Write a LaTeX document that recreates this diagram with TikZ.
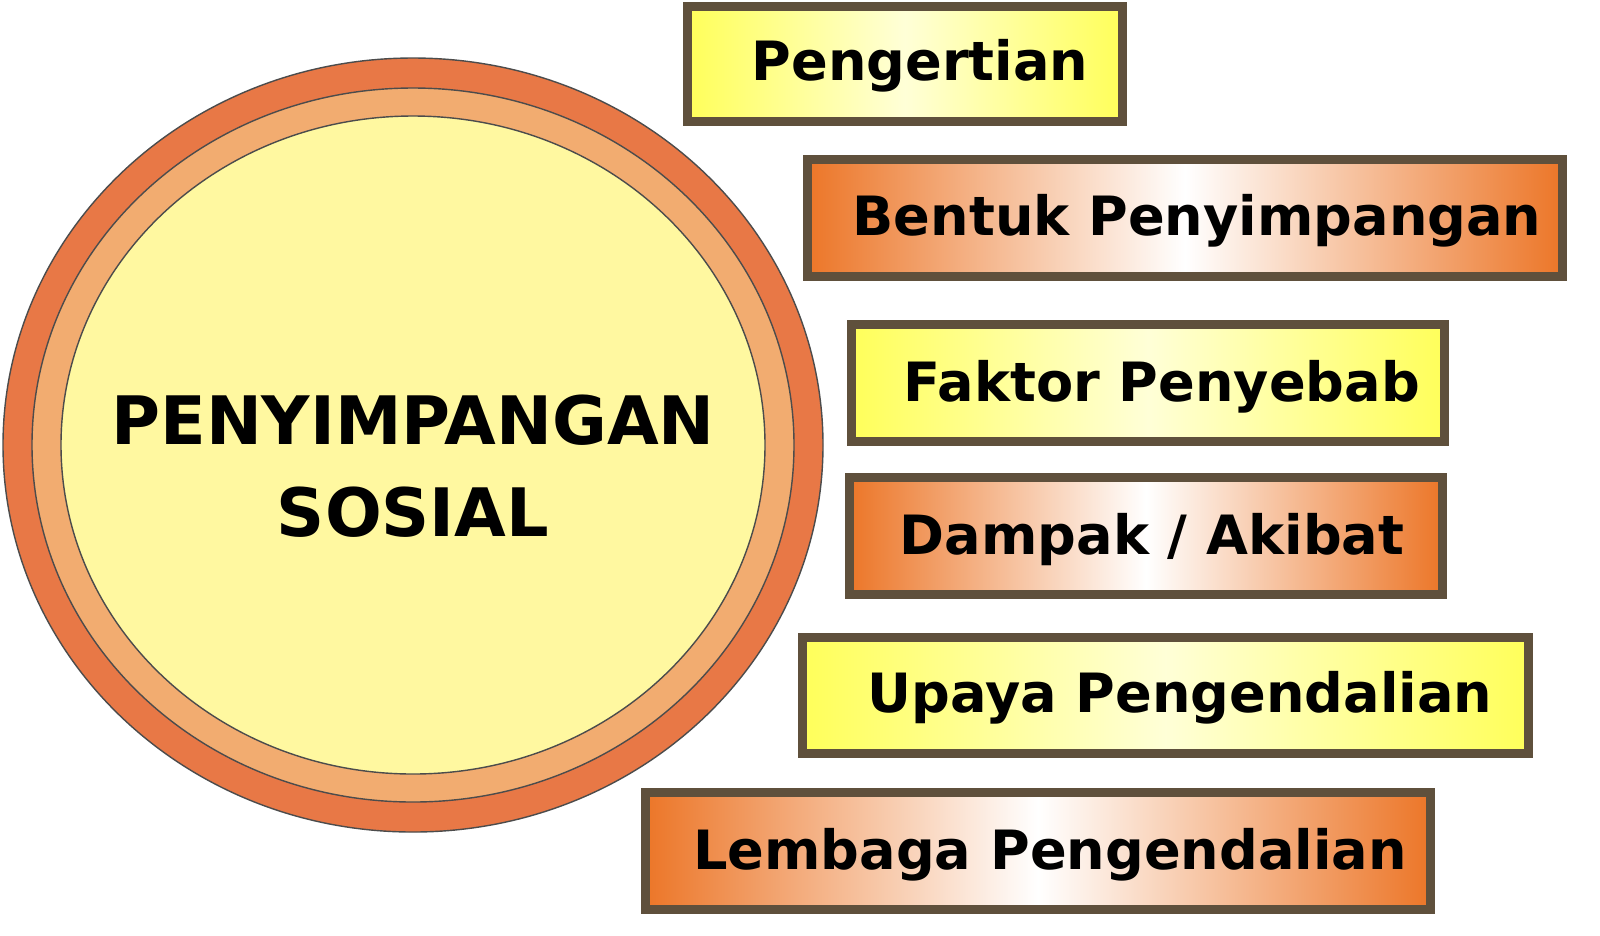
\documentclass[tikz,border=0pt]{standalone}
\usepackage{fontspec}
\setmainfont{DejaVu Sans}
\definecolor{ordark}{RGB}{232,120,70}
\definecolor{orlight}{RGB}{242,172,112}
\definecolor{yel}{RGB}{255,248,160}
\definecolor{frame}{RGB}{95,80,60}
\definecolor{boxor}{RGB}{236,118,40}
\definecolor{boxyel}{RGB}{255,255,90}
\definecolor{boxyelm}{RGB}{255,255,215}
\begin{document}
\begin{tikzpicture}[x=0.01cm,y=-0.01cm,
  box/.style={draw=frame,line width=0.09cm,inner sep=0},
  ybox/.style={box,left color=boxyel,right color=boxyel,middle color=boxyelm},
  obox/.style={box,left color=boxor,right color=boxor,middle color=white},
  lbl/.style={font=\bfseries\fontsize{15.4}{18}\selectfont}]
\useasboundingbox (0,0) rectangle (1600,935);
\fill[fill=white] (0,0) rectangle (1600,935);
\path[draw=black!70,fill=ordark] (413,445) ellipse [x radius=410,y radius=387];
\path[draw=black!70,fill=orlight] (413,445) ellipse [x radius=381,y radius=357];
\path[draw=black!70,fill=yel] (413,445) ellipse [x radius=352,y radius=329];
\node[font=\bfseries\fontsize{19}{26}\selectfont,align=center] (title) at (413,466) {PENYIMPANGAN\\SOSIAL};
\newcommand{\bx}[6]{\node[#1,minimum width={(#4-#2-9)*0.01cm},minimum height={(#5-#3-9)*0.01cm}] (#6) at ({(#2+#4)/2},{(#3+#5)/2}) {};}
\bx{ybox}{683}{2}{1127}{126}{b1}
\bx{obox}{803}{155}{1567}{281}{b2}
\bx{ybox}{847}{320}{1449}{446}{b3}
\bx{obox}{845}{473}{1447}{599}{b4}
\bx{ybox}{798}{633}{1533}{758}{b5}
\bx{obox}{641}{788}{1435}{914}{b6}
\node[lbl] (t1) at (920,66) {Pengertian};
\node[lbl] (t2) at (1197,221) {Bentuk Penyimpangan};
\node[lbl] (t3) at (1162,387) {Faktor Penyebab};
\node[lbl] (t4) at (1152,540) {Dampak / Akibat};
\node[lbl] (t5) at (1180,698) {Upaya Pengendalian};
\node[lbl] (t6) at (1050,855) {Lembaga Pengendalian};
\end{tikzpicture}
\end{document}
